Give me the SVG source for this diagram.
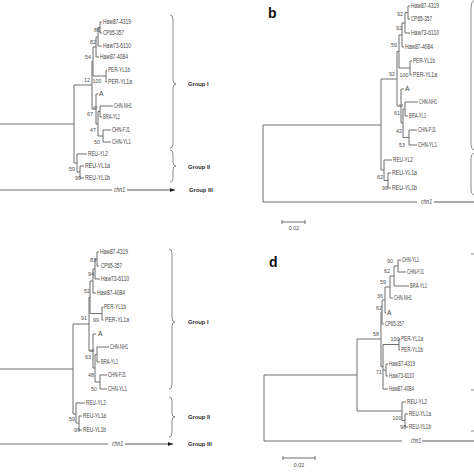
<svg xmlns="http://www.w3.org/2000/svg" width="474" height="474" viewBox="0 0 474 474">
<style>
text{font-family:"Liberation Sans",Arial,sans-serif}
.lf{font-size:6.6px;fill:#444}
.bs{font-size:5.3px;fill:#4d4d4d;text-anchor:middle}
.sm{font-size:4px;fill:#555;text-anchor:middle}
.grp{font-size:5.8px;font-weight:bold;fill:#2a2a2a}
.pl{font-size:14px;font-weight:bold;fill:#111}
.br{fill:none;stroke:#6e6e6e;stroke-width:1}
.brace{fill:none;stroke:#6e6e6e;stroke-width:0.8}
.arr{fill:none;stroke:#555;stroke-width:1}
</style>
<defs>
<marker id="ah" markerUnits="userSpaceOnUse" markerWidth="5" markerHeight="4" refX="5" refY="2" orient="auto"><path d="M0,0 L5,2 L0,4 z" fill="#222"/></marker>
</defs>
<rect width="474" height="474" fill="#fff"/>

<g id="connectors">
<!-- panel a -->
<path class="br" d="M100,22V33M100,22H102M100,33H102M98,27.5V46M98,27.5H100M98,46H102M96,37V57M96,37H98M96,57H99M106,70V82M106,70H107M106,82H107M93,47V76M93,47H96M93,76H106M92,61.5V109M92,61.5H93M92,109H96M100,106V117M100,106H113M100,117H102M103,130V142M103,130H111M103,142H111M98,111.5V136M98,111.5H100M98,136H103M96,94V124M96,94H98M96,124H98M74,85H92M74,85V163M77,154V172M74,163H77M77,154H87M80,166V178M77,172H80M80,166H84M80,178H84M0,124H74M0,190H112"/>
<path class="arr" d="M127,190H175" marker-end="url(#ah)"/>
<path class="brace" d="M170,15Q173,15 173,19V80Q173,84 176,84Q173,84 173,88V144Q173,148 170,148"/>
<path class="brace" d="M170,150Q173,150 173,154V162Q173,166 176,166Q173,166 173,170V178Q173,182 170,182"/>
<!-- panel b -->
<path class="br" d="M408,6V19M408,6H410M408,19H410M405,12.5V33M405,12.5H408M405,33H410M402,23V47M402,23H405M402,47H404M410,61V75M410,61H412M410,75H412M399,35V68M399,35H402M399,68H410M397,51.5V106M397,51.5H399M397,106H401M401,89V123M401,89H404M401,123H403M405,102V116M405,102H418M405,116H408M409,130V145M409,130H417M409,145H417M403,109V137.5M403,109H405M403,137.5H409M381,79H397M381,79V170M381,170H384M384,160V180.5M384,160H392M384,180.5H388M388,173V188M388,173H391M388,188H391M263,125H381M263,125V202M263,202H417"/>
<path class="arr" d="M434,202H474"/>
<path class="brace" d="M474,0Q471,2 471,8V145Q471,149 474,150"/>
<path class="brace" d="M474,153Q471,154 471,158V190Q471,194 474,195"/>
<path class="br" d="M282,222H305M282,220V224M305,220V224"/>
<!-- panel c -->
<path class="br" d="M97,252V266M97,252H99M97,266H99M95,259V279M95,259H97M95,279H100M93,269V293M93,269H95M93,293H96M102,307V320M102,307H103.5M102,320H103.5M90,281V313.5M90,281H93M90,313.5H102M89,297V351M89,297H90M89,351H93M93,334V368M93,334H96M93,368H95M97,347V362M97,347H109M97,362H100M100,375V389M100,375H107M100,389H107M95,354.5V382M95,354.5H97M95,382H100M73,324H89M73,324V414M73,414H76M76,403V423M76,403H85M76,423H79M79,416V430M79,416H82M79,430H82M0,369H73M0,444H108"/>
<path class="arr" d="M125,444H173" marker-end="url(#ah)"/>
<path class="brace" d="M169,249Q172,249 172,253V318Q172,322 175,322Q172,322 172,326V385Q172,389 169,389"/>
<path class="brace" d="M169,397Q172,397 172,401V413Q172,417 175,417Q172,417 172,421V433Q172,437 169,437"/>
<!-- panel d -->
<path class="br" d="M398,260V272M398,260H401M398,272H406M394,266V286M394,266H398M394,286H409M390,276V298M390,276H394M390,298H393M385,287V313M385,287H390M385,313H386M382,300V324M382,300H385M382,324H384M399,339V350M399,339H400M399,350H400M386,364V376M386,364H388M386,376H388M383,344.5V389M383,344.5H399M383,370H386M383,389H388M381,312V366.75M381,312H382M381,366.75H383M357,339H381M357,339V411M357,411H402M402,402V420.5M402,402H406M402,420.5H405M405,414V427M405,414H408M405,427H408M264,375H357M264,375V441M264,441H402"/>
<path class="arr" d="M422,441H474"/>
<path class="brace" d="M471,254H474M471,390H474M471,431H474"/>
<path class="br" d="M283,458H315M283,456V460M315,456V460"/>
</g>

<g id="panel-a">
<g id="a-haw87-4319"><text class="lf" x="103" y="24" textLength="28" lengthAdjust="spacingAndGlyphs">Haw87-4319</text></g>
<g id="a-cp65"><text class="lf" x="103" y="35" textLength="21" lengthAdjust="spacingAndGlyphs">CP65-357</text></g>
<g id="a-haw73"><text class="lf" x="103" y="48" textLength="28" lengthAdjust="spacingAndGlyphs">Haw73-6110</text></g>
<g id="a-haw87-4084"><text class="lf" x="100" y="59" textLength="28" lengthAdjust="spacingAndGlyphs">Haw87-4084</text></g>
<g id="a-per-yl1b"><text class="lf" x="108" y="72" textLength="22" lengthAdjust="spacingAndGlyphs">PER-YL1b</text></g>
<g id="a-per-yl1a"><text class="lf" x="108" y="84" textLength="24" lengthAdjust="spacingAndGlyphs">PER-YL1a</text></g>
<g id="a-a"><text class="lf" x="99" y="96">A</text></g>
<g id="a-chn-nh1"><text class="lf" x="114" y="108" textLength="18" lengthAdjust="spacingAndGlyphs">CHN-NH1</text></g>
<g id="a-bra-yl1"><text class="lf" x="103" y="119" textLength="17" lengthAdjust="spacingAndGlyphs">BRA-YL1</text></g>
<g id="a-chn-fj1"><text class="lf" x="112" y="132" textLength="18" lengthAdjust="spacingAndGlyphs">CHN-FJ1</text></g>
<g id="a-chn-yl1"><text class="lf" x="112" y="144" textLength="19" lengthAdjust="spacingAndGlyphs">CHN-YL1</text></g>
<g id="a-reu-yl2"><text class="lf" x="88" y="156" textLength="20" lengthAdjust="spacingAndGlyphs">REU-YL2</text></g>
<g id="a-reu-yl1a"><text class="lf" x="85" y="168" textLength="25" lengthAdjust="spacingAndGlyphs">REU-YL1a</text></g>
<g id="a-reu-yl1b"><text class="lf" x="85" y="180" textLength="25" lengthAdjust="spacingAndGlyphs">REU-YL1b</text></g>
<g id="a-chn1"><text class="lf" x="114" y="192" textLength="11" lengthAdjust="spacingAndGlyphs" font-style="italic">chn1</text></g>
<g id="a-bootstrap">
<text class="bs" x="97" y="32">86</text><text class="bs" x="93" y="44">82</text><text class="bs" x="88" y="59">54</text><text class="bs" x="87" y="82">12</text><text class="bs" x="97" y="83">100</text><text class="sm" x="95" y="109">48</text><text class="bs" x="90" y="116">67</text><text class="bs" x="93" y="132">47</text><text class="bs" x="97" y="144">50</text><text class="bs" x="72" y="171">59</text><text class="bs" x="78" y="180">99</text>
</g>
<g id="a-group1"><text class="grp" x="188" y="86">Group I</text></g>
<g id="a-group2"><text class="grp" x="188" y="169">Group II</text></g>
<g id="a-group3"><text class="grp" x="189" y="192">Group III</text></g>
</g>

<g id="panel-b">
<g id="b-label"><text class="pl" x="268" y="18">b</text></g>
<g id="b-haw87-4319"><text class="lf" x="411" y="8" textLength="28" lengthAdjust="spacingAndGlyphs">Haw87-4319</text></g>
<g id="b-cp65"><text class="lf" x="411" y="21" textLength="21" lengthAdjust="spacingAndGlyphs">CP65-357</text></g>
<g id="b-haw73"><text class="lf" x="411" y="35" textLength="28" lengthAdjust="spacingAndGlyphs">Haw73-6110</text></g>
<g id="b-haw87-4084"><text class="lf" x="405" y="49" textLength="28" lengthAdjust="spacingAndGlyphs">Haw87-4084</text></g>
<g id="b-per-yl1b"><text class="lf" x="413" y="63" textLength="22" lengthAdjust="spacingAndGlyphs">PER-YL1b</text></g>
<g id="b-per-yl1a"><text class="lf" x="413" y="77" textLength="24" lengthAdjust="spacingAndGlyphs">PER-YL1a</text></g>
<g id="b-a"><text class="lf" x="405" y="91">A</text></g>
<g id="b-chn-nh1"><text class="lf" x="419" y="104" textLength="18" lengthAdjust="spacingAndGlyphs">CHN-NH1</text></g>
<g id="b-bra-yl1"><text class="lf" x="409" y="118" textLength="17" lengthAdjust="spacingAndGlyphs">BRA-YL1</text></g>
<g id="b-chn-fj1"><text class="lf" x="418" y="132" textLength="18" lengthAdjust="spacingAndGlyphs">CHN-FJ1</text></g>
<g id="b-chn-yl1"><text class="lf" x="418" y="147" textLength="19" lengthAdjust="spacingAndGlyphs">CHN-YL1</text></g>
<g id="b-reu-yl2"><text class="lf" x="393" y="162" textLength="20" lengthAdjust="spacingAndGlyphs">REU-YL2</text></g>
<g id="b-reu-yl1a"><text class="lf" x="392" y="175" textLength="25" lengthAdjust="spacingAndGlyphs">REU-YL1a</text></g>
<g id="b-reu-yl1b"><text class="lf" x="392" y="190" textLength="25" lengthAdjust="spacingAndGlyphs">REU-YL1b</text></g>
<g id="b-chn1"><text class="lf" x="421" y="204" textLength="11" lengthAdjust="spacingAndGlyphs" font-style="italic">chn1</text></g>
<g id="b-bootstrap">
<text class="bs" x="400" y="16">92</text><text class="bs" x="399" y="30">92</text><text class="bs" x="394" y="47">59</text><text class="bs" x="392" y="76">92</text><text class="bs" x="404" y="77">100</text><text class="sm" x="401" y="107">58</text><text class="bs" x="397" y="115">61</text><text class="bs" x="399" y="133">42</text><text class="bs" x="402" y="147">53</text><text class="bs" x="380" y="179">62</text><text class="bs" x="385" y="190">99</text>
</g>
<g id="b-scale"><text class="bs" x="294" y="230">0.02</text></g>
</g>

<g id="panel-c">
<g id="c-haw87-4319"><text class="lf" x="100" y="254" textLength="28" lengthAdjust="spacingAndGlyphs">Haw87-4319</text></g>
<g id="c-cp65"><text class="lf" x="101" y="268" textLength="21" lengthAdjust="spacingAndGlyphs">CP65-357</text></g>
<g id="c-haw73"><text class="lf" x="101" y="281" textLength="28" lengthAdjust="spacingAndGlyphs">Haw73-6110</text></g>
<g id="c-haw87-4084"><text class="lf" x="97" y="295" textLength="28" lengthAdjust="spacingAndGlyphs">Haw87-4084</text></g>
<g id="c-per-yl1b"><text class="lf" x="104" y="309" textLength="22" lengthAdjust="spacingAndGlyphs">PER-YL1b</text></g>
<g id="c-per-yl1a"><text class="lf" x="105" y="322" textLength="24" lengthAdjust="spacingAndGlyphs">PER-YL1a</text></g>
<g id="c-a"><text class="lf" x="98" y="336">A</text></g>
<g id="c-chn-nh1"><text class="lf" x="110" y="349" textLength="18" lengthAdjust="spacingAndGlyphs">CHN-NH1</text></g>
<g id="c-bra-yl1"><text class="lf" x="101" y="364" textLength="17" lengthAdjust="spacingAndGlyphs">BRA-YL1</text></g>
<g id="c-chn-fj1"><text class="lf" x="108" y="377" textLength="18" lengthAdjust="spacingAndGlyphs">CHN-FJ1</text></g>
<g id="c-chn-yl1"><text class="lf" x="108" y="391" textLength="19" lengthAdjust="spacingAndGlyphs">CHN-YL1</text></g>
<g id="c-reu-yl2"><text class="lf" x="86" y="405" textLength="20" lengthAdjust="spacingAndGlyphs">REU-YL2</text></g>
<g id="c-reu-yl1a"><text class="lf" x="83" y="418" textLength="23" lengthAdjust="spacingAndGlyphs">REU-YL1a</text></g>
<g id="c-reu-yl1b"><text class="lf" x="83" y="432" textLength="23" lengthAdjust="spacingAndGlyphs">REU-YL1b</text></g>
<g id="c-chn1"><text class="lf" x="112" y="446" textLength="11" lengthAdjust="spacingAndGlyphs" font-style="italic">chn1</text></g>
<g id="c-bootstrap">
<text class="bs" x="93" y="262">83</text><text class="bs" x="91" y="276">94</text><text class="bs" x="87" y="293">52</text><text class="bs" x="84" y="320">91</text><text class="bs" x="96" y="322">99</text><text class="sm" x="92" y="352">58</text><text class="bs" x="88" y="359">63</text><text class="bs" x="91" y="377">48</text><text class="bs" x="94" y="391">50</text><text class="bs" x="72" y="421">59</text><text class="bs" x="77" y="432">99</text>
</g>
<g id="c-group1"><text class="grp" x="188" y="324">Group I</text></g>
<g id="c-group2"><text class="grp" x="188" y="419">Group II</text></g>
<g id="c-group3"><text class="grp" x="188" y="446">Group III</text></g>
</g>

<g id="panel-d">
<g id="d-label"><text class="pl" x="269" y="267">d</text></g>
<g id="d-chn-yl1"><text class="lf" x="402" y="262" textLength="17" lengthAdjust="spacingAndGlyphs">CHN-YL1</text></g>
<g id="d-chn-fj1"><text class="lf" x="407" y="274" textLength="17" lengthAdjust="spacingAndGlyphs">CHN-FJ1</text></g>
<g id="d-bra-yl1"><text class="lf" x="410" y="288" textLength="17" lengthAdjust="spacingAndGlyphs">BRA-YL1</text></g>
<g id="d-chn-nh1"><text class="lf" x="394" y="300" textLength="18" lengthAdjust="spacingAndGlyphs">CHN-NH1</text></g>
<g id="d-a"><text class="lf" x="387" y="315">A</text></g>
<g id="d-cp65"><text class="lf" x="385" y="326" textLength="19" lengthAdjust="spacingAndGlyphs">CP65-357</text></g>
<g id="d-per-yl1a"><text class="lf" x="401" y="341" textLength="22" lengthAdjust="spacingAndGlyphs">PER-YL1a</text></g>
<g id="d-per-yl1b"><text class="lf" x="401" y="352" textLength="22" lengthAdjust="spacingAndGlyphs">PER-YL1b</text></g>
<g id="d-haw87-4319"><text class="lf" x="389" y="366" textLength="26" lengthAdjust="spacingAndGlyphs">Haw87-4319</text></g>
<g id="d-haw73"><text class="lf" x="389" y="378" textLength="25" lengthAdjust="spacingAndGlyphs">Haw73-6110</text></g>
<g id="d-haw87-4084"><text class="lf" x="389" y="391" textLength="25" lengthAdjust="spacingAndGlyphs">Haw87-4084</text></g>
<g id="d-reu-yl2"><text class="lf" x="407" y="404" textLength="20" lengthAdjust="spacingAndGlyphs">REU-YL2</text></g>
<g id="d-reu-yl1a"><text class="lf" x="409" y="416" textLength="22" lengthAdjust="spacingAndGlyphs">REU-YL1a</text></g>
<g id="d-reu-yl1b"><text class="lf" x="409" y="429" textLength="22" lengthAdjust="spacingAndGlyphs">REU-YL1b</text></g>
<g id="d-chn1"><text class="lf" x="411" y="443" textLength="10" lengthAdjust="spacingAndGlyphs" font-style="italic">chn1</text></g>
<g id="d-bootstrap">
<text class="bs" x="390" y="263">90</text><text class="bs" x="387" y="273">62</text><text class="bs" x="383" y="284">59</text><text class="bs" x="380" y="298">36</text><text class="bs" x="379" y="310">62</text><text class="bs" x="376" y="336">58</text><text class="bs" x="395" y="341">100</text><text class="bs" x="379" y="374">71</text><text class="bs" x="397" y="420">100</text><text class="bs" x="403" y="429">98</text>
</g>
<g id="d-scale"><text class="bs" x="299" y="467">0.02</text></g>
</g>
</svg>
